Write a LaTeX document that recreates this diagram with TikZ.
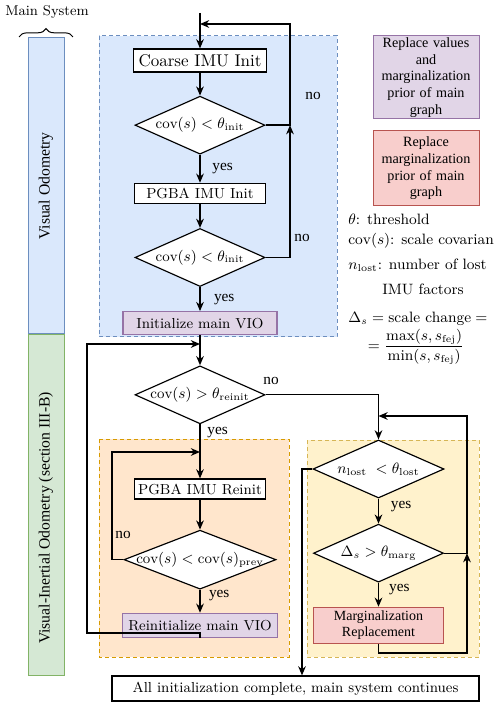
\documentclass[tikz,border=0pt]{standalone}
\usepackage{amsmath}
\usepackage{fontspec}
\newfontfamily\timesfont{Liberation Serif}
\usetikzlibrary{arrows.meta,positioning,shapes.geometric,decorations.pathreplacing}
\definecolor{vofill}{HTML}{DAE8FC}
\definecolor{voedge}{HTML}{6C8EBF}
\definecolor{viofill}{HTML}{D5E8D4}
\definecolor{vioedge}{HTML}{82B366}
\definecolor{refill}{HTML}{FFE6CC}
\definecolor{reedge}{HTML}{D79B00}
\definecolor{mgfill}{HTML}{FFF2CC}
\definecolor{mgedge}{HTML}{D6B656}
\definecolor{prpfill}{HTML}{E1D5E7}
\definecolor{prpedge}{HTML}{9673A6}
\definecolor{redfill}{HTML}{F8CECC}
\definecolor{rededge}{HTML}{B85450}
\newcommand{\cond}[1]{\makebox[0pt]{#1}}

\begin{document}
\begin{tikzpicture}[x=0.6pt, y=-0.6pt,
  flow/.style={rectangle, draw, line width=0.7pt, fill=white, inner sep=0pt,
    font=\fontsize{8.7}{10.4}\selectfont},
  decision/.style={diamond, draw, line width=0.7pt, fill=white, inner sep=0pt,
    aspect=2.2, minimum width=78pt, minimum height=34.8pt,
    font=\fontsize{8.7}{10.4}\selectfont},
  zone/.style={dash pattern=on 2.4pt off 1.8pt, line width=0.6pt},
  legend/.style={rectangle, draw, line width=0.6pt, inner sep=0pt,
    minimum width=63.6pt, text width=60pt, align=center,
    font=\timesfont\fontsize{8.5}{10}\selectfont},
  sidebar/.style={rectangle, draw, line width=0.6pt, rotate=90, inner sep=0pt,
    minimum height=21.6pt, font=\timesfont\fontsize{9.4}{11}\selectfont},
  sidetext/.style={rotate=90, inner sep=0pt, font=\timesfont\fontsize{9.4}{11}\selectfont},
  note/.style={inner sep=0pt, font=\fontsize{9}{11}\selectfont},
  lbl/.style={inner sep=1pt, font=\timesfont\fontsize{9.2}{11}\selectfont},
  arr/.style={-{Stealth[length=5.5pt, width=4.6pt]}, line width=0.8pt}
]
  \useasboundingbox (0,0) rectangle (493,718);

  % Zones
  \draw[zone, draw=voedge, fill=vofill] (99,36) rectangle (337,337);
  \draw[zone, draw=reedge, fill=refill] (99,439) rectangle (289,657);
  \draw[zone, draw=mgedge, fill=mgfill] (307,440) rectangle (479,657);

  % System column
  \node[font=\fontsize{8.5}{10}\selectfont] (mainsys) at (47,12) {Main System};
  \draw[decorate, decoration={brace, amplitude=5pt}, line width=0.6pt] (19,37) -- (73,37);
  \node[sidebar, draw=voedge, fill=vofill, minimum width=177.6pt] (vobar) at (46,186) {Visual Odometry};
  \node[sidebar, draw=vioedge, fill=viofill, minimum width=204.6pt] (viobar) at (46,504.5) {};
  \node[sidetext] (viotext) at (46,518) {Visual-Inertial Odometry (section III-B)};

  % Initialization
  \coordinate (entry) at (200,13);
  \node[flow, minimum width=79.8pt, minimum height=13.8pt,
    font=\fontsize{10.2}{12}\selectfont] (coarse) at (200,60.5) {Coarse IMU Init};
  \node[decision, below=13.8pt of coarse] (dinit) {\cond{$\mathrm{cov}(s) < \theta_{\text{init}}$}};
  \node[flow, below=16.8pt of dinit, minimum width=78.6pt, minimum height=12pt] (pgba) {PGBA IMU Init};
  \node[decision, below=14.4pt of pgba] (dpgba) {\cond{$\mathrm{cov}(s) < \theta_{\text{init}}$}};
  \node[flow, below=14.4pt of dpgba, minimum width=92.4pt, minimum height=13.8pt,
    draw=prpedge, fill=prpfill] (initvio) {Initialize main VIO};

  % Reinitialization
  \node[decision, below=18pt of initvio] (dreinit) {\cond{$\mathrm{cov}(s) > \theta_{\text{reinit}}$}};
  \node[flow, below=32.4pt of dreinit, minimum width=78.6pt, minimum height=12pt] (pgbar) {PGBA IMU Reinit};
  \node[decision, below=18pt of pgbar, minimum width=91.2pt, minimum height=35.4pt] (dprev)
    {\cond{$\mathrm{cov}(s) < \mathrm{cov}(s)_{\text{prev}}$}};
  \node[flow, below=13.8pt of dprev, minimum width=93pt, minimum height=14.4pt,
    draw=prpedge, fill=prpfill] (reinitvio) {Reinitialize main VIO};

  % Marginalization
  \node[decision, minimum width=78.6pt] (dlost) at (378.5,469) {\cond{$n_{\text{lost}} \;< \theta_{\text{lost}}$}};
  \node[decision, below=15pt of dlost] (dmarg) {\cond{$\Delta_s > \theta_{\text{marg}}$}};
  \node[flow, below=14.4pt of dmarg, minimum width=78pt, minimum height=21.6pt,
    draw=rededge, fill=redfill, align=center,
    font=\timesfont\fontsize{8.4}{9.3}\selectfont] (marg) {Marginalization\\Replacement};

  \node[flow, minimum width=220.2pt, minimum height=15pt] (final) at (295.5,688.5)
    {All initialization complete, main system continues};

  % Legend
  \node[legend, draw=prpedge, fill=prpfill, minimum height=49.8pt] (replval) at (426,77.5)
    {Replace values\\and\\marginalization\\prior of main\\graph};
  \node[legend, draw=rededge, fill=redfill, minimum height=45pt] (replmarg) at (426,168.5)
    {Replace\\marginalization\\prior of main\\graph};
  \node[note, anchor=west] (ntheta) at (348,219) {$\theta$: threshold};
  \node[note, anchor=west] (ncov) at (348,241) {$\mathrm{cov}(s)$: scale covariance};
  \node[note, anchor=west] (nlost) at (348,265) {$n_{\text{lost}}$: number of lost};
  \node[note] (nimu) at (423,289) {IMU factors};
  \node[note, anchor=west] (ndelta) at (348,319) {$\Delta_s = \text{scale change} =$};
  \node[note] (nratio) at (416,347) {$= \dfrac{\max(s, s_{\text{fej}})}{\min(s, s_{\text{fej}})}$};

  % Arrows
  \draw[arr] (entry) -- (coarse);
  \draw[arr] (coarse) -- (dinit);
  \draw[arr] (dinit) -- node[lbl, right=6pt] {yes} (pgba);
  \draw[arr] (pgba) -- (dpgba);
  \draw[arr] (dpgba) -- node[lbl, right=7pt] {yes} (initvio);
  \draw[arr] (initvio) -- (dreinit);
  \coordinate (initloop) at (290,24);
  \draw[arr] (dinit.east) -| (initloop) -- (initloop -| entry);
  \draw[arr] (dpgba.east) -| (initloop |- dinit.east);
  \node[lbl] (noinit) at (313,96) {no};
  \node[lbl] (nopgba) at (302,238) {no};

  \draw[arr] (dreinit.east) -| (dlost.north);
  \node[lbl] (noreinit) at (271,381) {no};
  \draw[arr] (dreinit) -- node[lbl, right=3pt, pos=0.15] {yes} (pgbar);
  \draw[arr] (pgbar) -- (dprev);
  \draw[arr] (dprev) -- node[lbl, right=4pt, pos=0.25] {yes} (reinitvio);
  \coordinate (prevloop) at (112,452);
  \draw[arr] (dprev.west) -| (prevloop) -- (prevloop -| pgbar.north);
  \node[lbl] (noprev) at (123,535) {no};
  \coordinate (backlow) at (87,633);
  \coordinate (backtop) at (87,344);
  \draw[arr] (reinitvio.south) |- (backlow) -- (backtop) -- (backtop -| dreinit.north);

  \draw[arr] (dlost) -- node[lbl, right=6pt, pos=0.3] {yes} (dmarg);
  \draw[arr] (dmarg) -- node[lbl, right=5pt, pos=0.3] {yes} (marg);
  \coordinate (margloop) at (467,416);
  \coordinate (margbot) at (467,653);
  \draw[arr] (dmarg.east) -| (margloop) -- (margloop -| dlost.north);
  \draw[arr] (marg.south) |- (margbot) -- (margbot |- dmarg.east);
  \coordinate (exit) at (302,469);
  \draw[arr] (dlost.west) -- (exit) -- (exit |- final.north);
\end{tikzpicture}
\end{document}
